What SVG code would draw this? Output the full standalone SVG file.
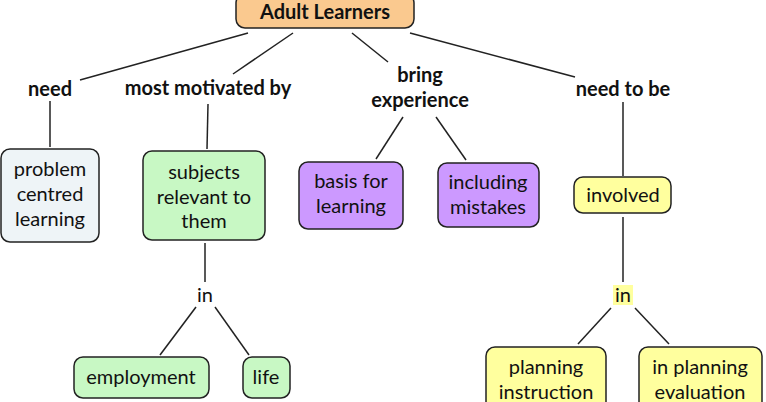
<svg xmlns="http://www.w3.org/2000/svg" width="766" height="402" viewBox="0 0 766 402">
<style>
.n{stroke:#222;stroke-width:1.5}
.t{font-family:Lato,"Open Sans",sans-serif;font-size:20px;fill:#111;text-anchor:middle}
.b{font-family:Lato,"Open Sans",sans-serif;font-size:20px;font-weight:bold;fill:#111;text-anchor:middle}
#c line{stroke:#222;stroke-width:1.5}
</style>
<rect width="766" height="402" fill="#fff"/>
<g id="c">
<line x1="248" y1="33" x2="80" y2="80"/>
<line x1="293" y1="33" x2="233" y2="74"/>
<line x1="352" y1="33" x2="388" y2="62"/>
<line x1="410" y1="33" x2="575" y2="77"/>
<line x1="50" y1="101" x2="50" y2="147"/>
<line x1="208" y1="104" x2="207" y2="149"/>
<line x1="403" y1="117" x2="376" y2="159"/>
<line x1="436" y1="117" x2="466" y2="160"/>
<line x1="623" y1="102" x2="623" y2="176"/>
<line x1="623" y1="217" x2="623" y2="282"/>
<line x1="611" y1="308" x2="578" y2="344"/>
<line x1="635" y1="308" x2="669" y2="344"/>
<line x1="205" y1="243" x2="205" y2="282"/>
<line x1="196" y1="307" x2="160" y2="355"/>
<line x1="215" y1="307" x2="249" y2="355"/>
</g>
<g id="root"><rect class="n" x="236" y="-6" width="178" height="34" rx="9" fill="#fac98f"/><text class="b" x="325" y="19">Adult Learners</text></g>
<g id="l-need"><text class="b" x="50" y="96">need</text></g>
<g id="l-most"><text class="b" x="208" y="95">most motivated by</text></g>
<g id="l-bring"><text class="b" x="420" y="82">bring</text><text class="b" x="420" y="107">experience</text></g>
<g id="l-needtobe"><text class="b" x="623" y="96">need to be</text></g>
<g id="problem"><rect class="n" x="1" y="149" width="98" height="93" rx="9" fill="#eef4f7"/><text class="t" x="50" y="176">problem</text><text class="t" x="50" y="201">centred</text><text class="t" x="50" y="226">learning</text></g>
<g id="subjects"><rect class="n" x="143" y="151" width="122" height="89" rx="9" fill="#c8f8c4"/><text class="t" x="204" y="179">subjects</text><text class="t" x="204" y="204">relevant to</text><text class="t" x="204" y="228">them</text></g>
<g id="basis"><rect class="n" x="299" y="162" width="104" height="67" rx="9" fill="#cc99ff"/><text class="t" x="351" y="188">basis for</text><text class="t" x="351" y="213">learning</text></g>
<g id="mistakes"><rect class="n" x="438" y="163" width="101" height="64" rx="9" fill="#cc99ff"/><text class="t" x="488" y="189">including</text><text class="t" x="488" y="214">mistakes</text></g>
<g id="involved"><rect class="n" x="574" y="177" width="97" height="36" rx="9" fill="#ffff9e"/><text class="t" x="623" y="202">involved</text></g>
<g id="in2"><rect x="613" y="285" width="20" height="20" fill="#ffff9e"/><text class="t" x="623" y="302">in</text></g>
<g id="in1"><text class="t" x="205" y="302">in</text></g>
<g id="planning"><rect class="n" x="486" y="347" width="120" height="64" rx="9" fill="#ffff9e"/><text class="t" x="546" y="374">planning</text><text class="t" x="546" y="399">instruction</text></g>
<g id="evaluation"><rect class="n" x="639" y="347" width="123" height="64" rx="9" fill="#ffff9e"/><text class="t" x="700" y="374">in planning</text><text class="t" x="700" y="399">evaluation</text></g>
<g id="employment"><rect class="n" x="74" y="357" width="135" height="41" rx="9" fill="#c8f8c4"/><text class="t" x="141" y="384">employment</text></g>
<g id="life"><rect class="n" x="243" y="357" width="47" height="41" rx="9" fill="#c8f8c4"/><text class="t" x="266" y="384">life</text></g>
</svg>
